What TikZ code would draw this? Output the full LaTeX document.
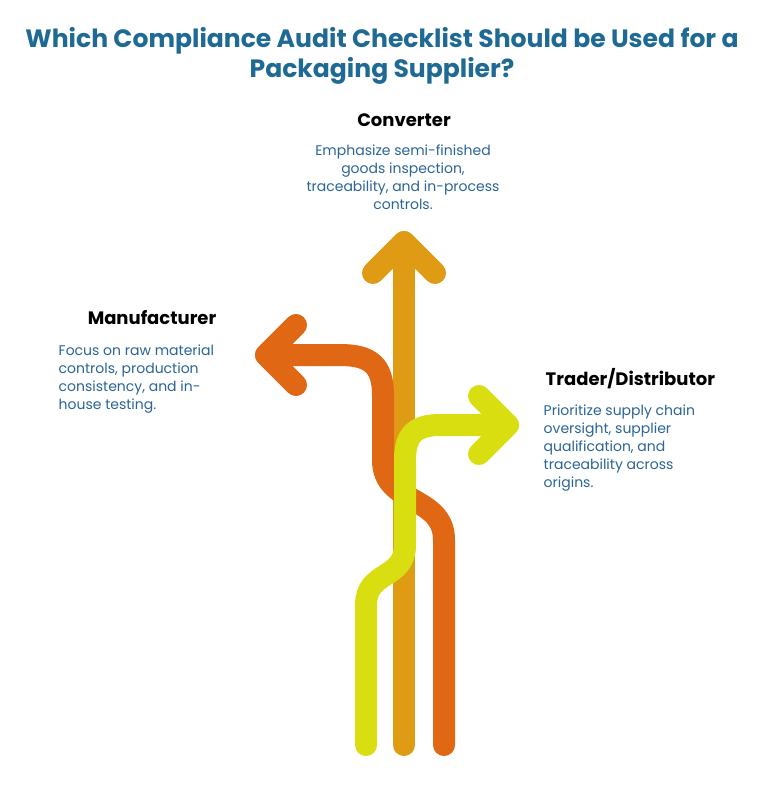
\documentclass[tikz,border=0pt]{standalone}
\usepackage{fontspec}
\setmainfont{Poppins}
\definecolor{titleblue}{HTML}{1F6A94}
\definecolor{textblue}{HTML}{2A6496}
\definecolor{convcol}{HTML}{E09B14}
\definecolor{mancol}{HTML}{E06815}
\definecolor{tradecol}{HTML}{D8DE10}
\begin{document}
\begin{tikzpicture}[x=0.75pt,y=-0.75pt]

  %Styles for picture
  \tikzset
  {
  band/.style={line width=16.5pt, line cap=round, line join=round},
  head/.style={font=\bfseries\fontsize{13.5}{16}\selectfont, text=black},
  info/.style={font=\fontsize{10.5}{13.5}\selectfont, text=textblue, align=left},
  }

  \useasboundingbox (0,0) rectangle (768,798);

  %Title
  \node[font=\bfseries\fontsize{18.8}{23}\selectfont, text=titleblue, align=center] (title) at (382,56)
    {Which Compliance Audit Checklist Should be Used for a\\Packaging Supplier?};

  %Converter band
  \coordinate (cb) at (404,745);
  \coordinate (ct) at (404,242);
  \draw[band, convcol] (cb) -- (ct);
  \draw[band, convcol] (373,273) -- (ct) -- (435,273);

  %Manufacturer band
  \coordinate (mb) at (444,745);
  \coordinate (mt) at (266,355);
  \draw[band, mancol] (mb) -- (444,540) .. controls (444,495) and (383,505) .. (383,460)
    -- (383,395) .. controls (383,365) and (370,355) .. (340,355) -- (mt);
  \draw[band, mancol] (296,325) -- (mt) -- (296,385);

  %Trader band
  \coordinate (tb) at (366,745);
  \coordinate (tt) at (508,425);
  \draw[band, tradecol] (tb) -- (366,605) .. controls (366,570) and (405,580) .. (405,545)
    -- (405,460) .. controls (405,435) and (415,425) .. (440,425) -- (tt);
  \draw[band, tradecol] (479,396) -- (tt) -- (479,454);

  %Labels
  \node[head] (convhead) at (404,120) {Converter};
  \node[info, align=center] (convtext) at (403,177)
    {Emphasize semi-finished\\goods inspection,\\traceability, and in-process\\controls.};
  \node[head, anchor=east] (manhead) at (221,318) {Manufacturer};
  \node[info, anchor=north west] (mantext) at (54,340)
    {Focus on raw material\\controls, production\\consistency, and in-\\house testing.};
  \node[head, anchor=west] (tradehead) at (541,379) {Trader/Distributor};
  \node[info, anchor=north west] (tradetext) at (539,400)
    {Prioritize supply chain\\oversight, supplier\\qualification, and\\traceability across\\origins.};
\end{tikzpicture}
\end{document}
